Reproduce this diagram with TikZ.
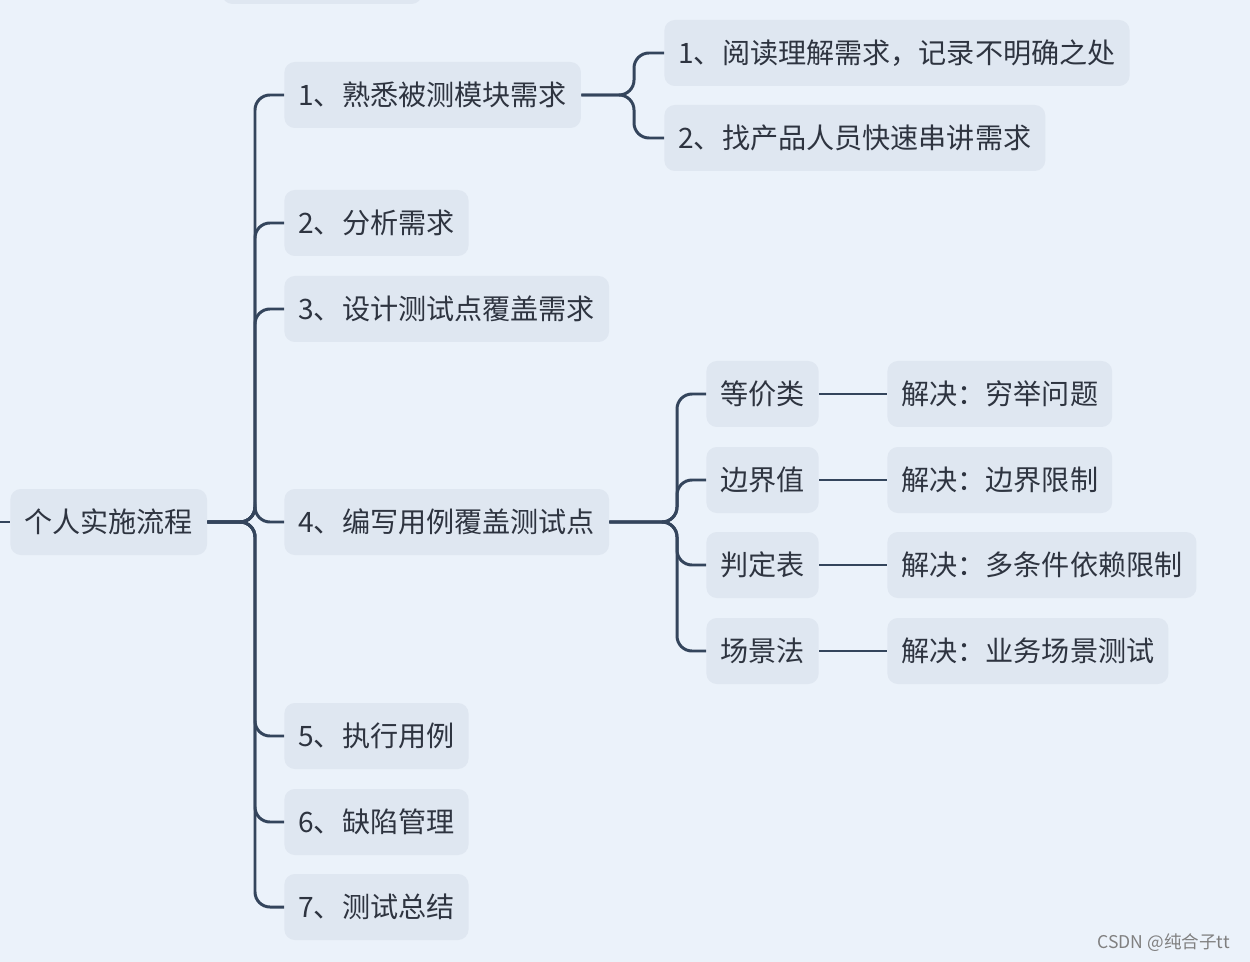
\documentclass[tikz,border=0pt]{standalone}
\usepackage{fontspec}
\setmainfont{Noto Sans CJK SC}
\usetikzlibrary{positioning}
\definecolor{bgblue}{HTML}{EBF2FA}
\definecolor{boxfill}{HTML}{DFE7F1}
\definecolor{linkcol}{HTML}{34455C}
\definecolor{txtcol}{HTML}{2E3440}
\tikzset{
	topic/.style={fill=boxfill, rounded corners=6pt, text=txtcol, anchor=west,
		minimum height=66*0.02cm, inner xsep=14*0.02cm, font=\fontsize{16}{18}\selectfont},
	link/.style={draw=linkcol, line width=1.7pt, rounded corners=0.3cm},
}
\begin{document}
\begin{tikzpicture}[x=0.02cm, y=-0.02cm]
	\fill[bgblue] (0,0) rectangle (1250,962);
	\useasboundingbox (0,0) rectangle (1250,962);
	\fill[boxfill, rounded corners=6pt] (222,-30) rectangle (422,4);
	% root and first level
	\node[topic] (root) at (10,522) {个人实施流程};
	\coordinate (lead) at (0,522);
	\node[topic] (s1) at (284,95) {1、熟悉被测模块需求};
	\node[topic] (s2) at (284,223) {2、分析需求};
	\node[topic] (s3) at (284,309) {3、设计测试点覆盖需求};
	\node[topic] (s4) at (284,522) {4、编写用例覆盖测试点};
	\node[topic] (s5) at (284,736) {5、执行用例};
	\node[topic] (s6) at (284,822) {6、缺陷管理};
	\node[topic] (s7) at (284,907) {7、测试总结};
	\draw[link] (lead) -- (root.west);
	\foreach \s in {s1,s2,s3,s4,s5,s6,s7}
		\draw[link] (root.east) -- (255,522) |- (\s.west);
	% step 1
	\node[topic] (r1) at (664,53) {1、阅读理解需求，记录不明确之处};
	\node[topic] (r2) at (664,138) {2、找产品人员快速串讲需求};
	\foreach \r in {r1,r2}
		\draw[link] (s1.east) -- (634,95) |- (\r.west);
	% step 4
	\node[topic] (m1) at (706,394) {等价类};
	\node[topic] (m2) at (706,480) {边界值};
	\node[topic] (m3) at (706,565) {判定表};
	\node[topic] (m4) at (706,651) {场景法};
	\node[topic] (n1) at (887,394) {解决：穷举问题};
	\node[topic] (n2) at (887,480) {解决：边界限制};
	\node[topic] (n3) at (887,565) {解决：多条件依赖限制};
	\node[topic] (n4) at (887,651) {解决：业务场景测试};
	\foreach \i in {1,...,4} {
		\draw[link] (s4.east) -- (677,522) |- (m\i.west);
		\draw[link] (m\i.east) -- (n\i.west);
	}
	\node[text=gray, anchor=east, font=\fontsize{10}{12}\selectfont] (mark) at (1236,943) {CSDN @纯合子tt};
\end{tikzpicture}
\end{document}
